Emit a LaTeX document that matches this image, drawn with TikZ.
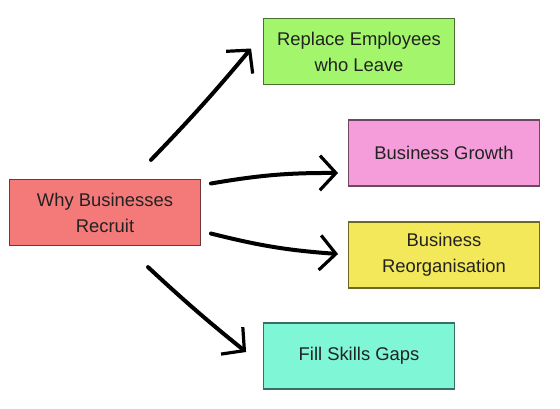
\documentclass[tikz,border=0pt]{standalone}
\usepackage{fontspec}
\setmainfont{Liberation Sans}
\usetikzlibrary{arrows.meta}
\definecolor{cred}{HTML}{F47A7A}
\definecolor{cgreen}{HTML}{A3F56C}
\definecolor{cpink}{HTML}{F49DDA}
\definecolor{cyellow}{HTML}{F3E85A}
\definecolor{cteal}{HTML}{7FF6D6}
\definecolor{ctext}{HTML}{222222}
\tikzset{
  box/.style={draw=#1!45!black, fill=#1, line width=0.9pt, minimum width=143pt, minimum height=49.5pt,
    inner sep=0pt, align=center, text=ctext, font=\fontsize{13.8}{19.5}\selectfont},
  arr/.style={line width=3pt, line cap=round, black,
    -{Straight Barb[length=12pt,width=26pt,line width=2.4pt]}},
}
\begin{document}
\begin{tikzpicture}[x=0.75pt,y=-0.75pt]
\useasboundingbox (0,0) rectangle (560,408);
\node[box=cred] (why) at (105,212.5) {Why Businesses\\Recruit};
\node[box=cgreen] (rep) at (359,51.5) {Replace Employees\\who Leave};
\node[box=cpink] (gro) at (444,153) {Business Growth};
\node[box=cyellow] (reo) at (444,255) {Business\\Reorganisation};
\node[box=cteal] (fil) at (359,356) {Fill Skills Gaps};
\draw[arr] ([shift={(46,-19)}]why.north) to[bend right=2] ([shift={(-12,-3)}]rep.west);
\draw[arr] ([shift={(10,-29)}]why.east) to[bend left=5] ([shift={(-10,20)}]gro.west);
\draw[arr] ([shift={(10,21)}]why.east) to[bend right=5] ([shift={(-10,-1)}]reo.west);
\draw[arr] ([shift={(43,21)}]why.south) to[bend right=2] ([shift={(-17,-4)}]fil.west);
\end{tikzpicture}
\end{document}
